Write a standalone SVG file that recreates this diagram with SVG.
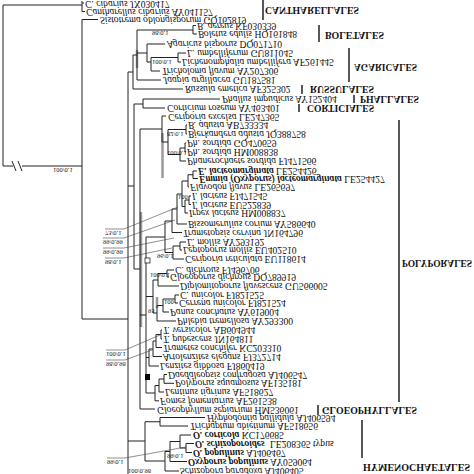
<svg xmlns="http://www.w3.org/2000/svg" width="474" height="474" viewBox="0 0 474 474">
<style>
.t{font-family:"Liberation Serif","Times New Roman",serif;font-size:9.6px;fill:#111}
.i{font-style:italic}
.b{font-weight:bold}
.o{font-family:"Liberation Serif","Times New Roman",serif;font-size:9.5px;font-weight:bold;fill:#111}
.s{font-family:"Liberation Serif","Times New Roman",serif;font-size:6.5px;fill:#111}
.ln{fill:none;stroke:#222;stroke-width:1}
.ld{fill:none;stroke:#444;stroke-width:0.6}
.bar{stroke:#222;stroke-width:1.5}
.gr{stroke:#9a9a9a;stroke-width:2.5}
</style>
<rect width="474" height="474" fill="#fff"/>
<g id="connectors">
<path class="gr" d="M137,50V68 M162.5,133V178 M157,297V308 M141,212V327"/>
<path class="ln" d="M3,5V166 M3,5H82 M82,1V11.5 M82,3H84 M82,11.5H85 M3,166H82 M82,19.5V319 M82,19.5H98 M82,319H128 M128,72V474
M128,72H133 M133,55V89 M133,89H183 M133,55H137 M137,30V80 M137,80H161 M137,30H193 M193,25.5V34 M193,25.5H196 M193,34H197
M137,53H147 M147,44V62 M147,44H165 M147,62H151 M151,57.5V71 M151,57.5H178 M178,53V62 M178,53H186 M178,62H181 M151,71H160
M134,104V269 M128,186H134 M134,104H143 M143,99V108 M143,99H220 M143,108H165 M134,269H140 M140,129V409 M140,409H155
M140,129H162 M162,116V142 M162,116H166 M162,142H168 M168,129.5V154.5 M168,129.5H186 M186,125V134 M186,125H187 M186,134H187 M168,154.5H180 M180,148V161 M180,148H185 M185,143V152 M185,143H186 M185,152H186 M180,161H186
M193,171V178.5 M193,171H197 M193,178.5H198 M188,174.75H193 M188,187H189 M188,174.75V187 M182,181H188
M189,196V204.5 M189,196H191 M189,204.5H191 M185,200H189 M185,213H188 M185,200V213 M182,206.5H185 M182,181V206.5 M177,194H182
M177,224H187 M177,194V224 M172,209H177 M172,232.5H182 M172,209V232.5 M165,221H172
M180,242V250 M180,242H186 M180,250H182 M173,246H180 M173,259H184 M173,246V259 M165,252.5H173 M165,221V252.5 M146,237H165
M167,270V277 M167,270H174 M167,277H169 M158,273.5H167 M158,286H179 M158,273.5V286 M153,280H158
M175,295V303 M175,295H179 M175,303H178 M163,299H175 M163,312H169 M163,299V312 M157,305.5H163 M157,321H176 M157,305.5V321 M153,313H157 M153,280V313 M146,296.5H153
M161,330V339 M161,330H162 M161,339H162 M156,334.5H161 M156,347.5H162 M156,334.5V347.5 M153,341H156 M153,356.5H162 M153,341V356.5 M149,349H153 M149,366H159 M149,349V366 M146,357.5H149
M164,374.5V383.3 M164,374.5H167 M164,383.3H174 M159,379H164 M159,392H164 M159,379V392 M155,385.5H159 M155,400.8H159 M155,385.5V400.8 M146,393H155 M146,237V393 M140,315H146
M160,417.5H205 M160,426H188 M160,417.5V426 M145,421.75H160 M180,435H191 M186,443.5V452.5 M186,443.5H194 M186,452.5H192 M180,448H186 M180,435V448 M170,441.5H180 M170,461.5H187 M170,441.5V461.5 M165,451.5H170 M165,471H179 M165,451.5V471 M145,461H165 M145,421.75V461 M128,441H145"/>
<rect x="13" y="160" width="9" height="12" fill="#fff"/>
<path class="ln" d="M12,161L16,171 M18,161L22,171"/>
<rect x="145" y="374" width="5" height="6" fill="#000"/>
<rect x="145" y="258" width="5" height="5" fill="#fff" stroke="#222" stroke-width="0.8"/>
<path class="ld" d="M105,229H124L178,207 M103,238H124L175,220 M103,248H124L174,238 M105,258H124L172,248 M106,350H125L160,335 M106,360H125L152,350 M107,458H125L186,447"/>
<path class="bar" d="M263,0V20 M319,25V42 M349,48V82 M302,85V94 M354,95V103 M299,104V112 M399,120V402 M318,405V415 M362,420V458"/>
</g>
<g id="orders" transform="scale(1,-1)">
<text class="o" x="265" y="-6.7" textLength="94" lengthAdjust="spacingAndGlyphs">CANTHARELLALES</text>
<text class="o" x="325" y="-31.7" textLength="59" lengthAdjust="spacingAndGlyphs">BOLETALES</text>
<text class="o" x="354" y="-63.7" textLength="63" lengthAdjust="spacingAndGlyphs">AGARICALES</text>
<text class="o" x="310" y="-85.7" textLength="64" lengthAdjust="spacingAndGlyphs">RUSSULALES</text>
<text class="o" x="360" y="-95.7" textLength="59" lengthAdjust="spacingAndGlyphs">PHALLALES</text>
<text class="o" x="307" y="-104.7" textLength="67" lengthAdjust="spacingAndGlyphs">CORTICIALES</text>
<text class="o" x="402" y="-259.7" textLength="70" lengthAdjust="spacingAndGlyphs">POLYPORALES</text>
<text class="o" x="322" y="-406.7" textLength="95" lengthAdjust="spacingAndGlyphs">GLOEOPHYLLALES</text>
<text class="o" x="363" y="-463.7" textLength="107" lengthAdjust="spacingAndGlyphs">HYMENOCHAETALES</text>
</g>
<g id="support" transform="scale(1,-1)">
<text class="s" x="53" y="-167.7">100/0.1</text>
<text class="s" x="152" y="-30.7">98/0.1</text>
<text class="s" x="152" y="-59.7">100/0.1</text>
<text class="s" x="167" y="-131.7">82/0.1</text>
<text class="s" x="167" y="-150.7">100/0.1</text>
<text class="s" x="178" y="-194.7">100</text>
<text class="s" x="105" y="-230.7">73/0.1</text>
<text class="s" x="103" y="-239.7">99/0.99</text>
<text class="s" x="103" y="-249.7">99/0.99</text>
<text class="s" x="105" y="-259.7">98/0.1</text>
<text class="s" x="157" y="-253.7">96/0.1</text>
<text class="s" x="150" y="-272.7">100/0.1</text>
<text class="s" x="164" y="-299.7">100</text>
<text class="s" x="148" y="-308.7">93</text>
<text class="s" x="106" y="-351.7">100/0.1</text>
<text class="s" x="106" y="-361.7">98/0.98</text>
<text class="s" x="107" y="-459.7">99/0.1</text>
<text class="s" x="167" y="-453.7">99/0.1</text>
<text class="s" x="128" y="-469.2">100/0.98</text>
</g>
<g id="n01" transform="scale(1,-1)"><text class="t" x="85" y="-0.5"><tspan class="i">C. cibarius</tspan> JX030417</text></g>
<g id="n02" transform="scale(1,-1)"><text class="t" x="86" y="-9"><tspan class="i">Cantharellus cibarius</tspan> AY041157</text></g>
<g id="n03" transform="scale(1,-1)"><text class="t" x="100" y="-16.5"><tspan class="i">Sistotrema oblongisporum</tspan> GQ162819</text></g>
<g id="n04" transform="scale(1,-1)"><text class="t" x="197" y="-22.5"><tspan class="i">B. aereus</tspan> KF030339</text></g>
<g id="n05" transform="scale(1,-1)"><text class="t" x="198" y="-31"><tspan class="i">Boletus edulis</tspan> HQ161848</text></g>
<g id="n06" transform="scale(1,-1)"><text class="t" x="167" y="-41"><tspan class="i">Agaricus bisporus</tspan> DQ071710</text></g>
<g id="n07" transform="scale(1,-1)"><text class="t" x="187" y="-50"><tspan class="i">L. umbelliferum</tspan> GU811045</text></g>
<g id="n08" transform="scale(1,-1)"><text class="t" x="182" y="-59"><tspan class="i">Lichenomphalia umbellifera</tspan> AF261445</text></g>
<g id="n09" transform="scale(1,-1)"><text class="t" x="162" y="-68"><tspan class="i">Tricholoma flavum</tspan> AY207306</text></g>
<g id="n10" transform="scale(1,-1)"><text class="t" x="163" y="-77"><tspan class="i">Jaapia argillacea</tspan> GU187581</text></g>
<g id="n11" transform="scale(1,-1)"><text class="t" x="185" y="-86"><tspan class="i">Russula emetica</tspan> AF325302</text></g>
<g id="n12" transform="scale(1,-1)"><text class="t" x="222" y="-96"><tspan class="i">Phallus impudicus</tspan> AY152404</text></g>
<g id="n13" transform="scale(1,-1)"><text class="t" x="167" y="-105"><tspan class="i">Corticium roseum</tspan> AY463401</text></g>
<g id="n14" transform="scale(1,-1)"><text class="t" x="168" y="-113.5"><tspan class="i">Ceriporia excelsa</tspan> LE247365</text></g>
<g id="n15" transform="scale(1,-1)"><text class="t" x="188" y="-122"><tspan class="i">B. adusta</tspan> AB733334</text></g>
<g id="n16" transform="scale(1,-1)"><text class="t" x="188" y="-131"><tspan class="i">Bjerkandera adusta</tspan> JQ388758</text></g>
<g id="n17" transform="scale(1,-1)"><text class="t" x="187" y="-140"><tspan class="i">Ph. sordida</tspan> GQ470659</text></g>
<g id="n18" transform="scale(1,-1)"><text class="t" x="187" y="-149"><tspan class="i">Ph. sordida</tspan> HM008838</text></g>
<g id="n19" transform="scale(1,-1)"><text class="t" x="187" y="-158"><tspan class="i">Phanerochaete sordida</tspan> FJ471566</text></g>
<g id="n20" transform="scale(1,-1)"><text class="t" x="198" y="-168"><tspan class="i b">E. lacteomarginata</tspan> LE254426</text></g>
<g id="n21" transform="scale(1,-1)"><text class="t" x="199" y="-175.5"><tspan class="i b">Emmia (Oxyporus) lacteomarginata</tspan> LE254427</text></g>
<g id="n22" transform="scale(1,-1)"><text class="t" x="190" y="-184"><tspan class="i">Flavodon flavus</tspan> LE265697</text></g>
<g id="n23" transform="scale(1,-1)"><text class="t" x="192" y="-193"><tspan class="i">I. lacteus</tspan> FJ471545</text></g>
<g id="n24" transform="scale(1,-1)"><text class="t" x="192" y="-201.5"><tspan class="i">I. lacteus</tspan> EU522839</text></g>
<g id="n25" transform="scale(1,-1)"><text class="t" x="189" y="-210"><tspan class="i">Irpex lacteus</tspan> HM008837</text></g>
<g id="n26" transform="scale(1,-1)"><text class="t" x="188" y="-221"><tspan class="i">Bissomerulius corium</tspan> AY586640</text></g>
<g id="n27" transform="scale(1,-1)"><text class="t" x="183" y="-229.5"><tspan class="i">Trametopsis cervina</tspan> JN164796</text></g>
<g id="n28" transform="scale(1,-1)"><text class="t" x="187" y="-239"><tspan class="i">L. mollis</tspan> AY293192</text></g>
<g id="n29" transform="scale(1,-1)"><text class="t" x="183" y="-247"><tspan class="i">Leptoporus mollis</tspan> EU402510</text></g>
<g id="n30" transform="scale(1,-1)"><text class="t" x="185" y="-256"><tspan class="i">Ceriporia reticulata</tspan> EU118614</text></g>
<g id="n31" transform="scale(1,-1)"><text class="t" x="175" y="-267"><tspan class="i">C. dichrous</tspan> FJ496706</text></g>
<g id="n32" transform="scale(1,-1)"><text class="t" x="170" y="-274"><tspan class="i">Gloeoporus dichrous</tspan> DQ789919</text></g>
<g id="n33" transform="scale(1,-1)"><text class="t" x="180" y="-283"><tspan class="i">Diplomitoporus flavescens</tspan> GU566005</text></g>
<g id="n34" transform="scale(1,-1)"><text class="t" x="180" y="-292"><tspan class="i">C. unicolor</tspan> FJ821525</text></g>
<g id="n35" transform="scale(1,-1)"><text class="t" x="179" y="-300"><tspan class="i">Cerrena unicolor</tspan> FJ821524</text></g>
<g id="n36" transform="scale(1,-1)"><text class="t" x="170" y="-309"><tspan class="i">Panus conchatus</tspan> AY619004</text></g>
<g id="n37" transform="scale(1,-1)"><text class="t" x="177" y="-318"><tspan class="i">Phlebia tremellosa</tspan> AY293300</text></g>
<g id="n38" transform="scale(1,-1)"><text class="t" x="163" y="-327"><tspan class="i">T. versicolor</tspan> AB604944</text></g>
<g id="n39" transform="scale(1,-1)"><text class="t" x="163" y="-336"><tspan class="i">T. pubescens</tspan> JN164811</text></g>
<g id="n40" transform="scale(1,-1)"><text class="t" x="163" y="-344.5"><tspan class="i">Trametes conchifer</tspan> KC203310</text></g>
<g id="n41" transform="scale(1,-1)"><text class="t" x="163" y="-353.5"><tspan class="i">Artolenzites elegans</tspan> FJ372714</text></g>
<g id="n42" transform="scale(1,-1)"><text class="t" x="160" y="-363"><tspan class="i">Lenzites gibbosa</tspan> FJ860419</text></g>
<g id="n43" transform="scale(1,-1)"><text class="t" x="168" y="-371.5"><tspan class="i">Daedaleopsis confragosa</tspan> AJ406547</text></g>
<g id="n44" transform="scale(1,-1)"><text class="t" x="175" y="-380.3"><tspan class="i">Polyporus squamosus</tspan> AF135181</text></g>
<g id="n45" transform="scale(1,-1)"><text class="t" x="165" y="-389"><tspan class="i">Lentinus tigrinus</tspan> AF518627</text></g>
<g id="n46" transform="scale(1,-1)"><text class="t" x="160" y="-397.8"><tspan class="i">Fomes fomentarius</tspan> AF261538</text></g>
<g id="n47" transform="scale(1,-1)"><text class="t" x="157" y="-406.5"><tspan class="i">Gloeophyllum sepiarium</tspan> HM536061</text></g>
<g id="n48" transform="scale(1,-1)"><text class="t" x="207" y="-414.5"><tspan class="i">Hyphodontia pallidula</tspan> AJ406594</text></g>
<g id="n49" transform="scale(1,-1)"><text class="t" x="190" y="-423"><tspan class="i">Trichaptum abietinum</tspan> AF518656</text></g>
<g id="n50" transform="scale(1,-1)"><text class="t" x="193" y="-432"><tspan class="i b">O. corticola</tspan> KC176685</text></g>
<g id="n51" transform="scale(1,-1)"><text class="t" x="195" y="-440.5"><tspan class="i b">O. schizoporoides</tspan><tspan x="270">LE208365 typus</tspan></text></g>
<g id="n52" transform="scale(1,-1)"><text class="t" x="193" y="-449.5"><tspan class="i b">O. populinus</tspan> AJ406467</text></g>
<g id="n53" transform="scale(1,-1)"><text class="t" x="188" y="-458.5"><tspan class="i b">Oxyporus populinus</tspan> AY059064</text></g>
<g id="n54" transform="scale(1,-1)"><text class="t" x="180" y="-467.5"><tspan class="i">Schizopora paradoxa</tspan> AJ406405</text></g>
</svg>
